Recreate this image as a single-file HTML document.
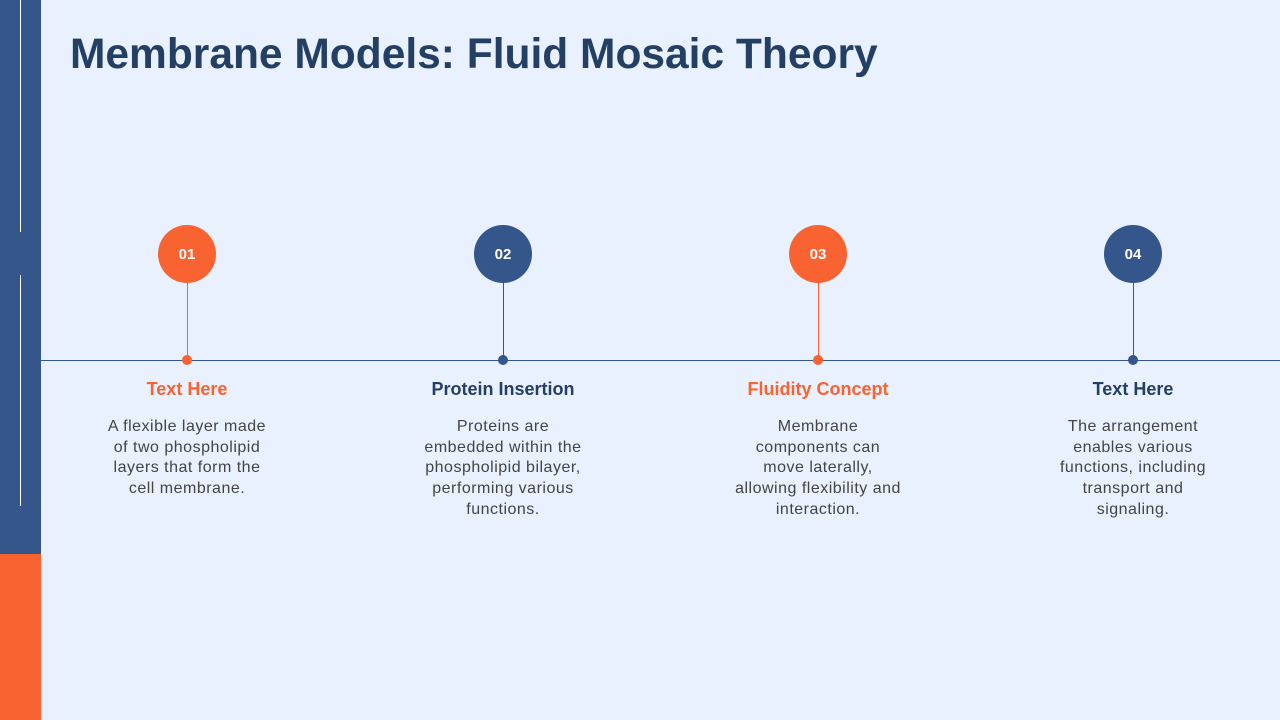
<!DOCTYPE html>
<html><head><style>
body{margin:0;width:1280px;height:720px;background:#E8F1FD;position:relative;overflow:hidden;font-family:"Liberation Sans",sans-serif}
.a{position:absolute}
.c{position:absolute;width:58px;height:58px;border-radius:50%;top:225px;color:#fff;font-weight:bold;font-size:15px;line-height:60px;text-align:center}
.v{position:absolute;width:1px;top:283px;height:77px}
.d{position:absolute;width:10px;height:10px;border-radius:50%;top:355px}
.h{position:absolute;width:240px;top:379px;font-size:18px;font-weight:bold;text-align:center}
.t{position:absolute;width:240px;top:417px;font-size:16px;line-height:20.7px;text-align:center;color:#444;letter-spacing:0.5px;white-space:nowrap}
</style></head><body>
<div class="a" style="left:0;top:0;width:41px;height:554px;background:#34568B"></div>
<div class="a" style="left:0;top:554px;width:41px;height:166px;background:#F96331"></div>
<div class="a" style="left:20px;top:0;width:1px;height:232px;background:#fff"></div>
<div class="a" style="left:20px;top:275px;width:1px;height:231px;background:#fff"></div>
<div class="a" style="left:70px;top:31px;font-size:42.5px;font-weight:bold;color:#243F64">Membrane Models: Fluid Mosaic Theory</div>
<div class="a" style="left:41px;top:360px;width:1239px;height:1px;background:#34568B"></div>

<div class="c" style="left:158px;background:#F96331">01</div>
<div class="v" style="left:187px;background:#F96331"></div>
<div class="d" style="left:182px;background:#F96331"></div>
<div class="h" style="left:67px;color:#F96331">Text Here</div>
<div class="t" style="left:67px">A flexible layer made<br>of two phospholipid<br>layers that form the<br>cell membrane.</div>

<div class="c" style="left:474px;background:#34568B">02</div>
<div class="v" style="left:503px;background:#34568B"></div>
<div class="d" style="left:498px;background:#34568B"></div>
<div class="h" style="left:383px;color:#243F64">Protein Insertion</div>
<div class="t" style="left:383px">Proteins are<br>embedded within the<br>phospholipid bilayer,<br>performing various<br>functions.</div>

<div class="c" style="left:789px;background:#F96331">03</div>
<div class="v" style="left:818px;background:#F96331"></div>
<div class="d" style="left:813px;background:#F96331"></div>
<div class="h" style="left:698px;color:#F96331">Fluidity Concept</div>
<div class="t" style="left:698px">Membrane<br>components can<br>move laterally,<br>allowing flexibility and<br>interaction.</div>

<div class="c" style="left:1104px;background:#34568B">04</div>
<div class="v" style="left:1133px;background:#34568B"></div>
<div class="d" style="left:1128px;background:#34568B"></div>
<div class="h" style="left:1013px;color:#243F64">Text Here</div>
<div class="t" style="left:1013px">The arrangement<br>enables various<br>functions, including<br>transport and<br>signaling.</div>
</body></html>
